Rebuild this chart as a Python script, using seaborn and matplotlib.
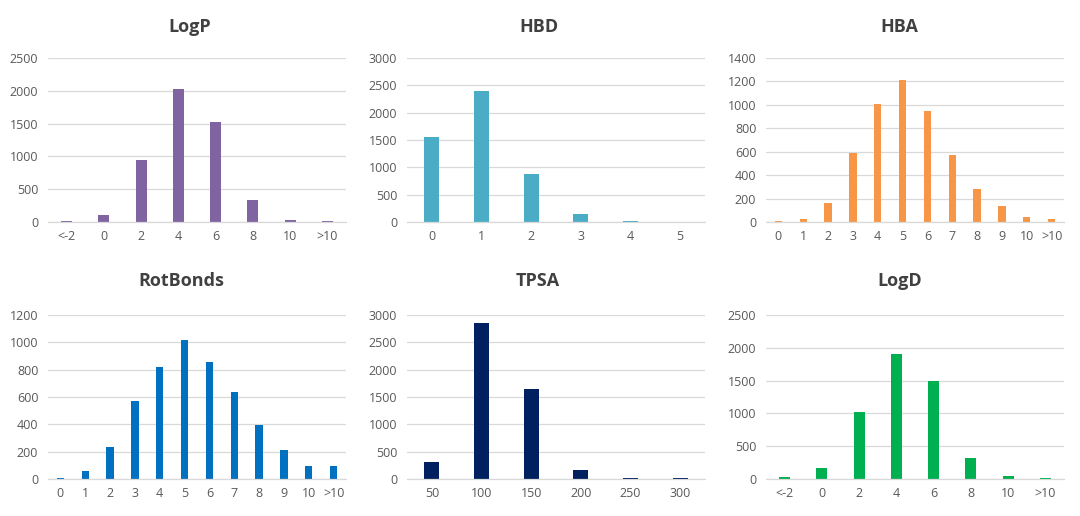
import matplotlib
matplotlib.use("Agg")
import matplotlib.pyplot as plt
import seaborn as sns
import pandas as pd

# ---- data ----
logp_cats = ["<-2", "0", "2", "4", "6", "8", "10", ">10"]
logp_vals = [10, 100, 950, 2020, 1530, 330, 25, 10]

hbd_cats = ["0", "1", "2", "3", "4", "5"]
hbd_vals = [1550, 2390, 880, 150, 10, 8]

hba_cats = ["0", "1", "2", "3", "4", "5", "6", "7", "8", "9", "10", ">10"]
hba_vals = [5, 25, 160, 590, 1010, 1215, 945, 575, 280, 135, 40, 25]

rot_cats = ["0", "1", "2", "3", "4", "5", "6", "7", "8", "9", "10", ">10"]
rot_vals = [8, 55, 235, 570, 820, 1020, 855, 635, 395, 210, 95, 95]

tpsa_cats = ["50", "100", "150", "200", "250", "300"]
tpsa_vals = [310, 2850, 1640, 170, 25, 10]

logd_cats = ["<-2", "0", "2", "4", "6", "8", "10", ">10"]
logd_vals = [25, 170, 1020, 1900, 1490, 325, 40, 15]

titles = ["LogP", "HBD", "HBA", "RotBonds", "TPSA", "LogD"]
colors = ["#8064A2", "#4BACC6", "#F79646", "#0070C0", "#002060", "#00B050"]
ymax = [2500, 3000, 1400, 1200, 3000, 2500]
ystep = [500, 500, 200, 200, 500, 500]

panels = [(logp_cats, logp_vals), (hbd_cats, hbd_vals), (hba_cats, hba_vals),
          (rot_cats, rot_vals), (tpsa_cats, tpsa_vals), (logd_cats, logd_vals)]

sns.set_theme(style="white")
plt.rcParams['font.family'] = ['Open Sans', 'DejaVu Sans']

W, H = 1080, 516
fig = plt.figure(figsize=(W / 100, H / 100), dpi=100)

lefts = [48, 407, 766]
tops = [58, 315]
bottoms = [222, 479]
title_x = [190, 539, 899, 181, 538, 900]
title_y = [27, 281]
aw = 298

for i, ((cats, vals), title, col, ym, st) in enumerate(zip(panels, titles, colors, ymax, ystep)):
    r, c = divmod(i, 3)
    l = lefts[c]
    t = tops[r]
    b = bottoms[r]
    ax = fig.add_axes([l / W, 1 - b / H, aw / W, (b - t) / H])
    df = pd.DataFrame({"cat": cats, "val": vals})
    sns.barplot(data=df, x="cat", y="val", color=col, width=0.3, ax=ax,
                saturation=1, edgecolor="none")
    ax.set_ylim(0, ym)
    ax.set_yticks(range(0, ym + 1, st))
    ax.set_xlabel("")
    ax.set_ylabel("")
    ax.grid(axis="y", color="#D9D9D9", linewidth=0.9)
    ax.set_axisbelow(True)
    for s in ["top", "right", "left"]:
        ax.spines[s].set_visible(False)
    ax.spines["bottom"].set_color("#D9D9D9")
    ax.spines["bottom"].set_linewidth(0.9)
    ax.tick_params(axis="both", length=0, labelsize=9, colors="#595959", pad=6)
    ax.tick_params(axis="y", pad=7)
    fig.text(title_x[i] / W, 1 - title_y[r] / H, title, ha="center", va="center",
             fontsize=13, fontweight="bold", color="#404040")

fig.savefig("out.png", dpi=100, facecolor="white")
